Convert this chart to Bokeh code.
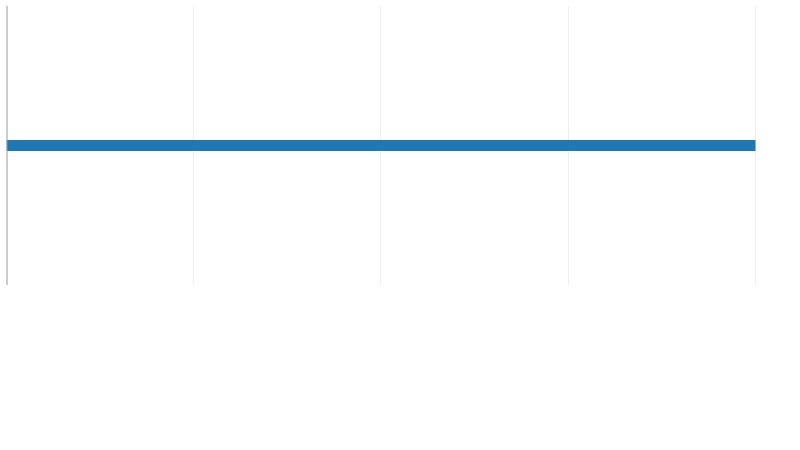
from bokeh.plotting import figure
from bokeh.models import FixedTicker, Span, ColumnDataSource
from bokeh.embed import file_html
from bokeh.resources import INLINE

# data
categories = [0]
values = [4]
grid_ticks = [1, 2, 3, 4]

src = ColumnDataSource(dict(y=categories, right=values, left=[0] * len(values)))

p = figure(width=792, height=285, x_range=(0, 4.1976), y_range=(-0.5, 0.5),
           min_border=0, min_border_left=6, min_border_top=5,
           toolbar_location=None, output_backend="svg")
p.outline_line_color = None
p.background_fill_color = "white"
p.border_fill_color = "white"

p.hbar(y="y", left="left", right="right", height=0.04, source=src,
       fill_color="#1f77b4", line_color=None)

p.xaxis.visible = False
p.yaxis.visible = False
p.xgrid.ticker = FixedTicker(ticks=grid_ticks)
p.xgrid.grid_line_color = "#eeeeee"
p.xgrid.grid_line_width = 1
p.ygrid.visible = False

zero = Span(location=0, dimension="height", line_color="#999999", line_width=2)
p.add_layout(zero)

open("out.html", "w").write(file_html(p, INLINE))
